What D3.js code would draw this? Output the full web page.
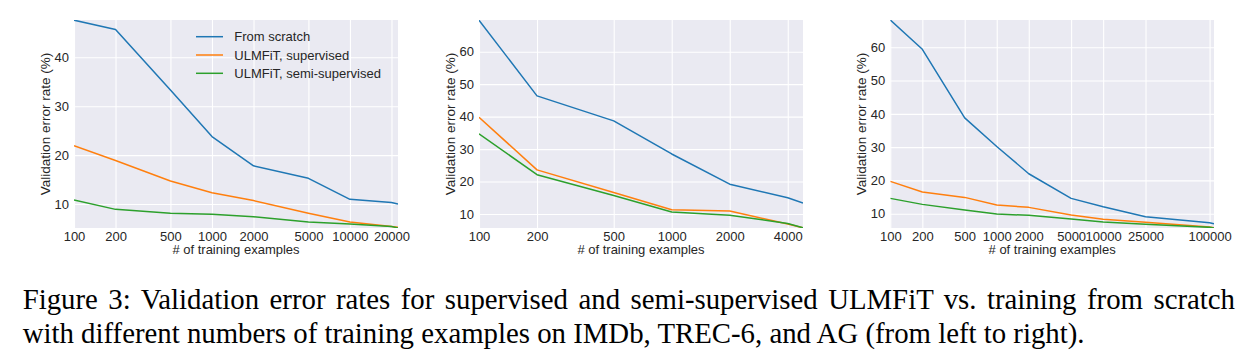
<!DOCTYPE html>
<html><head><meta charset="utf-8">
<script src="https://cdn.jsdelivr.net/npm/d3@7"></script>
<style>body{margin:0;background:#fff}svg{display:block}</style>
</head><body>
<svg id="chart" width="1248" height="359"></svg>
<script>
const seriesNames = ["From scratch", "ULMFiT, supervised", "ULMFiT, semi-supervised"];
const colors = ["#1f77b4", "#ff7f0e", "#2ca02c"];

// IMDb
const imdbX = [100, 200, 500, 1000, 2000, 5000, 10000, 20000, 22300];
const imdbScratch = [47.6, 45.7, 33.3, 23.8, 17.8, 15.25, 10.96, 10.3, 10.0];
const imdbSup = [21.9, 18.9, 14.7, 12.3, 10.7, 8.1, 6.3, 5.4, 5.25];
const imdbSemi = [10.8, 8.9, 8.1, 7.9, 7.4, 6.3, 5.9, 5.4, 5.1];
const imdbXTicks = [100, 200, 500, 1000, 2000, 5000, 10000, 20000];
const imdbYTicks = [10, 20, 30, 40];

// TREC-6
const trecX = [100, 200, 500, 1000, 2000, 4000, 4800];
const trecScratch = [69.7, 46.4, 38.7, 28.5, 19.2, 15.0, 13.4];
const trecSup = [39.8, 23.6, 16.6, 11.3, 10.9, 6.9, 5.75];
const trecSemi = [34.7, 22.1, 15.7, 10.6, 9.6, 7.1, 5.75];
const trecXTicks = [100, 200, 500, 1000, 2000, 4000];
const trecYTicks = [10, 20, 30, 40, 50, 60];

// AG
const agX = [100, 200, 500, 1000, 2000, 5000, 10000, 25000, 100000, 110000];
const agScratch = [68.2, 59.4, 38.8, 30.2, 22.0, 14.6, 12.1, 9.1, 7.3, 7.0];
const agSup = [19.7, 16.5, 14.9, 12.6, 11.9, 9.6, 8.3, 7.4, 6.0, 5.8];
const agSemi = [14.6, 12.8, 11.1, 9.9, 9.5, 8.4, 7.5, 6.8, 5.9, 5.7];
const agXTicks = [100, 200, 500, 1000, 2000, 5000, 10000, 25000, 100000];
const agYTicks = [10, 20, 30, 40, 50, 60];

const captionLines = [
  "Figure 3: Validation error rates for supervised and semi-supervised ULMFiT vs. training from scratch",
  "with different numbers of training examples on IMDb, TREC-6, and AG (from left to right)."
];

const svg = d3.select("#chart");
const plotTop = 20, plotBottom = 228;
const panels = [
  {left: 74, right: 398, x: imdbX, series: [imdbScratch, imdbSup, imdbSemi], xTicks: imdbXTicks, yTicks: imdbYTicks, yDom: [5.09, 47.63], legend: true},
  {left: 479, right: 803, x: trecX, series: [trecScratch, trecSup, trecSemi], xTicks: trecXTicks, yTicks: trecYTicks, yDom: [5.69, 69.77]},
  {left: 890.3, right: 1214, x: agX, series: [agScratch, agSup, agSemi], xTicks: agXTicks, yTicks: agYTicks, yDom: [5.70, 68.2]}
];
const font = "'Liberation Sans', Arial, sans-serif";
const txt = "#262626";

panels.forEach((p, pi) => {
  const x = d3.scaleLog().domain([p.x[0], p.x[p.x.length - 1]]).range([p.left, p.right]);
  const y = d3.scaleLinear().domain(p.yDom).range([plotBottom, plotTop]);
  const g = svg.append("g");
  g.append("rect").attr("x", p.left).attr("y", plotTop).attr("width", p.right - p.left).attr("height", plotBottom - plotTop).attr("fill", "#eaeaf2");
  const clipId = "clip" + pi;
  svg.append("clipPath").attr("id", clipId).append("rect").attr("x", p.left).attr("y", plotTop).attr("width", p.right - p.left).attr("height", plotBottom - plotTop);

  const xAxis = d3.axisBottom(x).tickValues(p.xTicks).tickSize(-(plotBottom - plotTop)).tickFormat(d3.format("d")).tickPadding(4);
  const gx = g.append("g").attr("transform", `translate(0,${plotBottom})`).call(xAxis);
  gx.select(".domain").remove();
  gx.selectAll(".tick line").attr("stroke", "#fff").attr("stroke-width", 1.1);
  gx.selectAll(".tick text").attr("font-family", font).attr("font-size", 13).attr("fill", txt).attr("dy", "0.71em").attr("y", 3.5);

  const yAxis = d3.axisLeft(y).tickValues(p.yTicks).tickSize(-(p.right - p.left)).tickPadding(5);
  const gy = g.append("g").attr("transform", `translate(${p.left},0)`).call(yAxis);
  gy.select(".domain").remove();
  gy.selectAll(".tick line").attr("stroke", "#fff").attr("stroke-width", 1.1);
  gy.selectAll(".tick text").attr("font-family", font).attr("font-size", 13).attr("fill", txt);

  const line = d3.line().x((d, i) => x(p.x[i])).y(d => y(d));
  const lg = g.append("g").attr("clip-path", `url(#${clipId})`);
  p.series.forEach((s, si) => {
    lg.append("path").datum(s).attr("d", line).attr("fill", "none").attr("stroke", colors[si]).attr("stroke-width", 1.5).attr("stroke-linejoin", "round");
  });

  g.append("text").attr("x", (p.left + p.right) / 2).attr("y", 254).attr("text-anchor", "middle")
    .attr("font-family", font).attr("font-size", 13).attr("fill", txt).text("# of training examples");
  g.append("text").attr("transform", `translate(${p.left - 24},${(plotTop + plotBottom) / 2}) rotate(-90)`).attr("text-anchor", "middle")
    .attr("font-family", font).attr("font-size", 13.5).attr("fill", txt).text("Validation error rate (%)");

  if (p.legend) {
    const leg = g.append("g");
    seriesNames.forEach((n, i) => {
      const yy = 36.7 + i * 18.3;
      leg.append("line").attr("x1", 196).attr("x2", 223).attr("y1", yy).attr("y2", yy).attr("stroke", colors[i]).attr("stroke-width", 1.5);
      leg.append("text").attr("x", 234.3).attr("y", yy).attr("dy", "0.35em").attr("font-family", font).attr("font-size", 13).attr("fill", txt).text(n);
    });
  }
});

const serif = "'Liberation Serif', 'Times New Roman', serif";
const cap = svg.append("g");
const c1 = cap.append("text").attr("x", 22.7).attr("y", 309.3).attr("font-family", serif).attr("font-size", 28.8).attr("fill", "#000").text(captionLines[0]);
cap.append("text").attr("x", 22.7).attr("y", 343.3).attr("font-family", serif).attr("font-size", 28.8).attr("fill", "#000").text(captionLines[1]);
const natural = c1.node().getComputedTextLength();
const spaces = captionLines[0].split(" ").length - 1;
const target = 1235 - 22.7;
if (natural < target) c1.attr("word-spacing", (target - natural) / spaces);
</script>
</body></html>
